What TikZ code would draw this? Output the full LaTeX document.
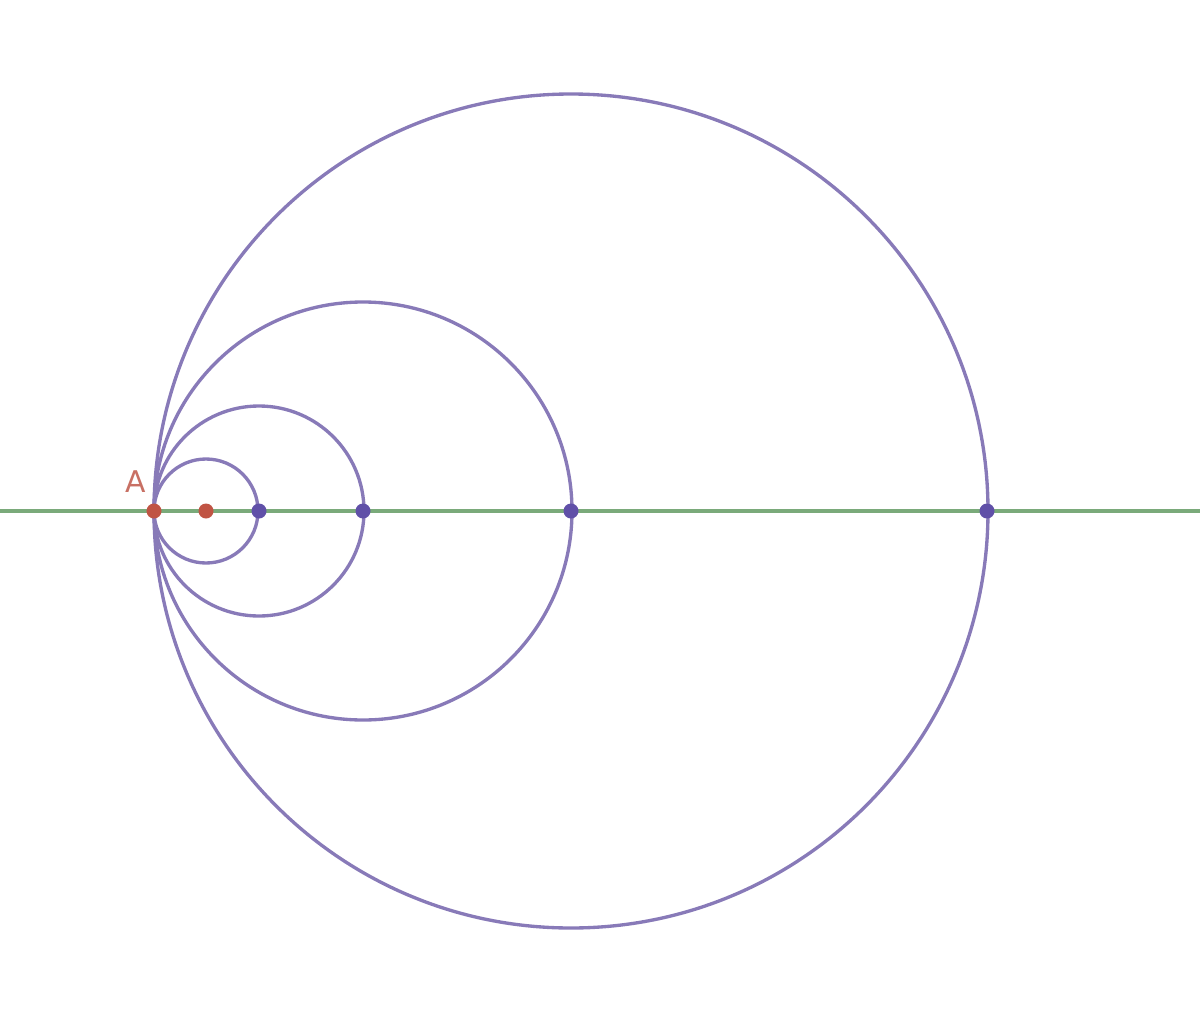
\documentclass[tikz,border=0pt]{standalone}
\usepackage{fontspec}
\setmainfont{DejaVu Sans}
\usetikzlibrary{positioning}
\definecolor{circlecol}{RGB}{136,122,184}
\definecolor{ptblue}{RGB}{96,80,168}
\definecolor{ptred}{RGB}{192,84,68}
\definecolor{axiscol}{RGB}{122,170,122}
\definecolor{labelcol}{RGB}{200,112,100}
\tikzset{
  pt/.style={circle, inner sep=0pt, minimum size=0.15cm},
  bluept/.style={pt, fill=ptblue},
  redpt/.style={pt, fill=ptred},
  circ/.style={draw=circlecol, line width=0.95pt},
  axis/.style={draw=axiscol, line width=0.95pt}
}
\begin{document}
\begin{tikzpicture}[x=0.01cm, y=0.01cm]
\useasboundingbox (0,0) rectangle (1200,1017);

%line
\coordinate (L) at (0,506);
\coordinate (R) at (1200,506);
\draw[axis] (L) -- (R);

%circles
\draw[circ] (206,506) circle (52);
\draw[circ] (259,506) circle (105);
\draw[circ] (363,506) circle (209);
\draw[circ] (571,506) circle (417);

%A
\node[redpt] (A) at (154,506) {};
\node[text=labelcol, font=\fontsize{8.5}{10}\selectfont, above left=0cm and -0.1cm of A] (lA) {A};
%center
\node[redpt] (c0) at (206,506) {};
%points
\node[bluept] (p1) at (259,506) {};
\node[bluept] (p2) at (363,506) {};
\node[bluept] (p3) at (571,506) {};
\node[bluept] (p4) at (987,506) {};

\end{tikzpicture}
\end{document}
